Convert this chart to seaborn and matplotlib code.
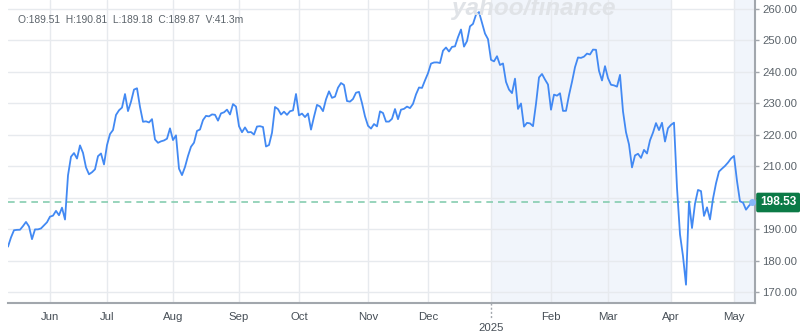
import numpy as np
import pandas as pd
import matplotlib
matplotlib.use("Agg")
import matplotlib.pyplot as plt
import matplotlib.transforms as mtransforms
import seaborn as sns

# ---------------- data ----------------
holidays = ["2024-05-27", "2024-06-19", "2024-07-04", "2024-09-02", "2024-11-28",
            "2024-12-25", "2025-01-01", "2025-01-09", "2025-01-20", "2025-02-17",
            "2025-04-18"]
start_date = "2024-05-13"
end_date = "2025-05-09"

closes_may24 = [184.5, 187.43, 189.72, 189.84, 189.87, 191.04, 192.35, 190.90, 186.88,
                189.98, 189.99, 190.29, 191.29, 192.25]
closes_jun24 = [194.03, 194.35, 195.87, 194.48, 196.89, 193.12, 207.15, 213.07, 214.24,
                212.49, 216.67, 214.29, 209.68, 207.49, 208.14, 209.07, 213.25, 214.10, 210.62]
closes_jul24 = [216.75, 220.27, 221.55, 226.34, 227.82, 228.68, 232.98, 227.57, 230.54,
                234.40, 234.82, 228.88, 224.18, 224.31, 223.96, 225.01, 218.54, 217.49,
                217.96, 218.24, 218.80, 222.08]
closes_aug24 = [218.36, 219.86, 209.27, 207.23, 209.82, 213.31, 216.24, 217.53, 221.27,
                221.72, 224.72, 226.05, 225.89, 226.51, 226.40, 224.53, 226.84, 227.18,
                228.03, 226.49, 229.79, 229.00]
closes_sep24 = [222.77, 220.85, 222.38, 220.82, 220.91, 220.11, 222.66, 222.77, 222.50,
                216.32, 216.79, 220.69, 228.87, 228.20, 226.47, 227.37, 226.37, 227.52,
                227.79, 233.00]
closes_oct24 = [226.21, 226.78, 225.67, 226.80, 221.69, 225.77, 229.54, 229.04, 227.55,
                231.30, 233.85, 231.78, 232.15, 235.00, 236.48, 235.86, 230.76, 230.57,
                231.41, 233.40, 233.67, 230.10, 225.91]
closes_nov24 = [222.91, 222.01, 223.45, 222.72, 227.48, 226.96, 224.23, 224.23, 225.12,
                228.22, 225.00, 228.02, 228.28, 229.00, 228.52, 229.87, 232.87, 235.06,
                234.93, 237.33]
closes_dec24 = [239.59, 242.65, 243.01, 243.04, 242.84, 246.75, 247.77, 246.49, 247.96,
                248.13, 251.04, 253.48, 248.05, 249.79, 254.49, 255.27, 258.20, 259.02,
                255.59, 252.20, 250.42]
closes_jan25 = [243.85, 243.36, 245.00, 242.21, 242.70, 236.85, 234.40, 233.28, 237.87,
                228.26, 229.98, 222.64, 223.83, 223.66, 222.78, 229.86, 238.26, 239.36,
                237.59, 236.00]
closes_feb25 = [228.01, 232.80, 232.47, 233.22, 227.63, 227.65, 232.62, 236.87, 241.53,
                244.60, 244.47, 244.87, 245.83, 245.55, 247.10, 247.04, 240.36, 237.30,
                241.84]
closes_mar25 = [238.03, 235.93, 235.74, 235.33, 239.07, 227.48, 220.84, 216.98, 209.68,
                213.49, 214.00, 212.69, 215.24, 214.10, 218.27, 220.73, 223.75, 221.53,
                223.85, 217.90, 222.13]
closes_apr25 = [223.19, 223.89, 203.19, 188.38, 181.46, 172.42, 198.85, 190.42, 198.15,
                202.52, 202.14, 194.27, 196.98, 193.16, 199.74, 204.60, 208.37, 209.28,
                210.14, 211.21, 212.50]
closes_may25 = [213.32, 205.35, 198.89, 198.51, 196.25, 197.49, 198.53]

month_labels = ["Jun", "Jul", "Aug", "Sep", "Oct", "Nov", "Dec", "", "Feb", "Mar", "Apr", "May"]
year_label = "2025"
y_ticks = [170, 180, 190, 200, 210, 220, 230, 240, 250, 260]
ohlc_text = "O:189.51  H:190.81  L:189.18  C:189.87  V:41.3m"
last_price = 198.53
shade_starts = ["2025-01-01", "2025-05-01"]
shade_ends = ["2025-04-01", None]
watermark = "yahoo/finance"

closes = (closes_may24 + closes_jun24 + closes_jul24 + closes_aug24 + closes_sep24 +
          closes_oct24 + closes_nov24 + closes_dec24 + closes_jan25 + closes_feb25 +
          closes_mar25 + closes_apr25 + closes_may25)
dates = pd.bdate_range(start_date, end_date, freq="C", holidays=holidays)
df = pd.DataFrame({"date": dates, "close": closes})
df["i"] = np.arange(len(df))

# ---------------- style ----------------
sns.set_theme(style="white")
plt.rcParams["font.family"] = ["Liberation Sans", "DejaVu Sans"]

W, H = 800, 335
fig = plt.figure(figsize=(W / 100, H / 100), dpi=100)
ax = fig.add_axes([8 / W, 32 / H, 747 / W, 303 / H])

line_color = "#4289f3"
grid_color = "#e7eaee"
axis_color = "#a2a7ad"

def first_idx(d):
    return int(df.loc[df["date"] >= pd.Timestamp(d), "i"].iloc[0])

n = len(df)
for s, e in zip(shade_starts, shade_ends):
    x0 = first_idx(s)
    x1 = first_idx(e) if e is not None else n
    ax.axvspan(x0, x1, color="#f1f5fb", lw=0, zorder=0)

month_first = df.groupby(df["date"].dt.to_period("M"))["i"].min()
month_pos = list(month_first.values[1:])

for yv in y_ticks:
    ax.axhline(yv, color=grid_color, lw=1, zorder=0.5)
for xv in month_pos:
    ax.axvline(xv, color=grid_color, lw=1, zorder=0.5)

sns.lineplot(data=df, x="i", y="close", ax=ax, color=line_color, lw=1.3, zorder=3)
ax.axhline(last_price, color="#86cdb0", lw=1.2, ls=(0, (4, 3)), zorder=2)
ax.plot([df["i"].iloc[-1]], [df["close"].iloc[-1]], "o", ms=4, color="#86b6f8", zorder=4)

ax.set_xlim(0, n)
ax.set_ylim(166.6, 262.86)
ax.set_xlabel("")
ax.set_ylabel("")

ax.set_xticks(month_pos)
ax.set_xticklabels(month_labels)
ax.yaxis.tick_right()
ax.set_yticks(y_ticks)
ax.set_yticklabels([f"{v:.2f}" for v in y_ticks])
ax.tick_params(axis="x", length=4, width=1, color=axis_color, labelsize=8.2,
               labelcolor="#464e56", pad=2.5)
ax.tick_params(axis="y", length=3, width=1, color=axis_color, labelsize=8.2,
               labelcolor="#5b636a", pad=2, right=True, left=False)
for lbl in ax.get_xticklabels():
    lbl.set_fontweight("medium")
ax.grid(False)

for side in ["top", "left"]:
    ax.spines[side].set_visible(False)
for side in ["bottom", "right"]:
    ax.spines[side].set_color(axis_color)
    ax.spines[side].set_linewidth(1.5)

# year label under Jan
jan_idx = month_pos[7]
trans = mtransforms.blended_transform_factory(ax.transData, ax.transAxes)
ax.plot([jan_idx, jan_idx], [0, -16 / 303], transform=trans, color=axis_color,
        lw=1, ls=(0, (1.5, 1.5)), clip_on=False)
ax.text(jan_idx, -25 / 303, year_label, transform=trans, ha="center", va="center",
        fontsize=8.2, color="#464e56", clip_on=False)

# price box
trans_y = mtransforms.blended_transform_factory(ax.transAxes, ax.transData)
ax.text(1.0 + 5 / 747, last_price, f"{last_price:.2f}", transform=trans_y,
        ha="left", va="center", fontsize=8.6, color="white", fontweight="bold",
        bbox=dict(boxstyle="round,pad=0.32,rounding_size=0.15", fc="#0b7a46", ec="none"),
        zorder=10, clip_on=False)

# OHLC text and watermark
fig.text(18 / W, 1 - 20 / H, ohlc_text, ha="left", va="center", fontsize=7.4,
         color="#5b636a")
fig.text(452 / W, 1 - 15 / H, watermark, ha="left", va="baseline", fontsize=17.5,
         color="#e0e3e7", fontweight="heavy", style="italic", zorder=0)

fig.savefig("out.png", dpi=100)
